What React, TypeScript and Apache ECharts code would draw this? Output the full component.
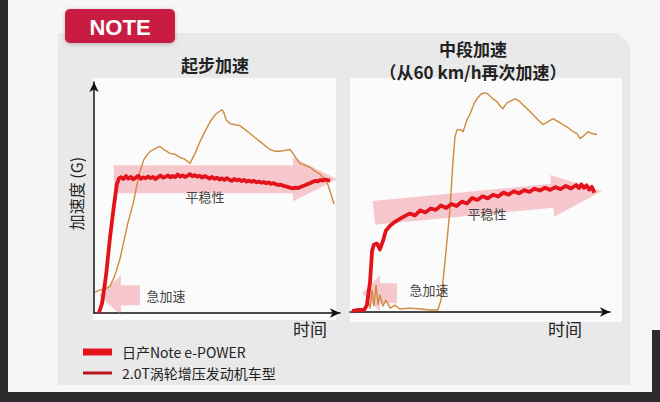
import React, { useRef, useEffect } from 'react';
import * as echarts from 'echarts';

// 起步加速 (left panel), [time, accel] in axis units 0..100
const noteStartData: number[][] = [
    [2, 0], [3.3, 4.3], [4.9, 16.3], [6.5, 32.6], [8.1, 46.4], [9.3, 55.8], [10.2, 58.4],
    [11, 58.8], [12, 58.0], [13, 59.3], [14, 58.2], [15, 58.9], [16, 57.9], [17, 58.6], [18, 59.4],
    [19, 58.1], [20, 58.7], [21, 58.3], [22, 59.1], [23, 58.4], [24, 58.9], [25, 58.0], [26, 58.8],
    [27, 59.5], [28, 58.6], [29, 58.9], [30, 59.6], [31, 58.7], [32, 59.3], [33, 58.8], [34, 60.0],
    [35, 59.0], [36, 59.6], [37, 58.9], [38, 59.4], [39, 60.1], [40, 59.2], [41, 59.7], [42, 59.0],
    [43, 59.4], [44, 58.6], [45, 59.3], [46, 58.8], [47, 58.2], [48, 58.9], [49, 58.1], [50, 58.6],
    [51, 57.8], [52, 58.3], [53, 57.6], [54, 58.4], [55, 57.7], [56, 57.2], [57, 58.0], [58, 57.4],
    [59, 57.8], [60, 57.1], [61, 57.6], [62, 56.9], [63, 57.3], [64, 56.8], [65, 57.2], [66, 56.6],
    [67, 56.9], [68, 56.4], [69, 56.7], [70, 56.2], [71, 56.5], [72, 55.9], [73, 56.2], [74, 55.7],
    [75, 55.4], [76, 55.6], [77, 55.0], [78, 54.8], [79, 54.5], [80, 54.2], [81, 54.0], [82, 54.3],
    [83, 54.1], [84, 54.6], [85, 55.0], [86, 55.4], [87, 55.9], [88, 56.3], [89, 56.8], [90, 57.2],
    [91, 57.0], [92, 57.6], [93, 57.3], [94, 57.8], [95, 57.5], [96, 57.4]
];

const turboStartData: number[][] = [
    [0.4, 9.0], [2.4, 9.9], [4.5, 10.3], [6.5, 11.6], [8.5, 16.3], [10.6, 23.6], [12.2, 31.3],
    [13.8, 39.1], [15.9, 47.2], [17.5, 55.8], [18.7, 61.4], [20.3, 66.5], [22.8, 70.0], [24.8, 71.2],
    [26.8, 72.1], [28.9, 70.4], [30.9, 69.1], [32.9, 68.7], [35.0, 67.4], [37.0, 66.5], [39.0, 64.8],
    [41.1, 69.1], [43.1, 74.2], [45.1, 78.5], [47.2, 82.8], [49.2, 85.8], [50.8, 87.1], [52.0, 88.0],
    [52.8, 86.7], [53.7, 83.7], [55.3, 82.0], [57.3, 81.5], [59.3, 81.1], [61.4, 79.4], [63.4, 77.7],
    [65.4, 76.0], [67.5, 74.2], [69.5, 72.5], [71.5, 70.8], [73.6, 70.0], [75.6, 70.0], [77.6, 70.4],
    [79.7, 70.8], [81.7, 67.8], [83.7, 64.8], [85.8, 63.9], [87.8, 63.1], [89.8, 61.4], [91.9, 60.1],
    [93.9, 57.9], [95.1, 55.4], [96.3, 51.5], [97.6, 47.2]
];

// 中段加速 (right panel)
const noteMidData: number[][] = [
    [0.8, 0.4], [3.1, 0.9], [5.4, 0.9], [6.5, 3.0], [7.7, 12.9], [8.5, 26.7], [9.2, 29.3],
    [10.4, 29.7], [11.5, 27.2], [12.7, 31.0], [13.8, 35.3], [15.4, 37.5], [17.3, 39.2], [19.2, 40.5],
    [21.2, 41.8], [23, 42.8], [25, 42.0], [27, 44.2], [29, 43.3], [31, 45.0], [33, 44.4], [35, 46.3],
    [37, 45.2], [39, 47.0], [41, 46.1], [43, 48.0], [45, 47.2], [47, 49.6], [49, 48.7], [51, 50.3],
    [53, 49.4], [55, 51.0], [57, 50.2], [59, 51.9], [61, 51.0], [63, 52.5], [65, 51.6], [67, 53.0],
    [69, 52.2], [71, 53.6], [73, 52.8], [75, 54.0], [77, 53.1], [79, 54.3], [81, 53.4], [83, 54.8],
    [85, 53.7], [87, 55.2], [88, 53.9], [89, 55.5], [90, 54.0], [91, 55.1], [92, 53.2], [93, 54.4],
    [94, 51.8]
];

const turboMidData: number[][] = [
    [0.4, 0.4], [3.8, 0.9], [5.8, 1.3], [6.9, 5.2], [7.7, 1.7], [8.5, 9.5], [9.2, 2.6], [10, 11.6],
    [10.8, 3.4], [11.5, 7.3], [12.7, 2.6], [13.8, 5.2], [15.4, 1.7], [17.3, 3.0], [19.2, 1.3],
    [23.1, 1.7], [26.9, 1.3], [30.8, 0.9], [33.8, 0.9], [35, 5.2], [36.2, 18.1], [37.3, 31.0],
    [38.5, 45.3], [39.6, 65.5], [40.4, 76.3], [41.2, 79.3], [42.3, 79.3], [43.5, 78.4], [45, 83.6],
    [46.2, 86.2], [47.7, 90.5], [48.8, 92.7], [50.4, 94.8], [51.9, 95.3], [53.1, 94.8], [54.6, 93.1],
    [56.5, 91.4], [57.7, 89.7], [58.8, 88.4], [60.4, 91.0], [61.9, 91.8], [63.5, 92.7], [65, 91.8],
    [66.5, 90.1], [68.5, 87.9], [70.4, 85.8], [72.3, 83.6], [74.2, 81.5], [76.2, 82.8], [78.1, 84.1],
    [80, 82.8], [81.9, 81.5], [83.8, 80.2], [85.8, 78.4], [87.3, 77.6], [88.5, 75.4], [90, 76.7],
    [91.5, 78.4], [93.1, 77.6], [95, 77.2]
];

// highlight arrows: [tailX, tailY, tipX, tipY]
const startArrows: number[][] = [[8.1, 57.9, 98.8, 57.9], [18.7, 7.7, 2.0, 7.7]];
const midArrows: number[][] = [[9.2, 43.1, 96.9, 52.6], [18.1, 8.2, 4.6, 8.2]];

const panelTitles = ['起步加速', '中段加速', '（从60 km/h再次加速）'];
const legendNames = ['日产Note e-POWER', '2.0T涡轮增压发动机车型'];
const axisNames = ['加速度 (G)', '时间'];
const noteLabels = ['平稳性', '急加速'];

const FONT = '"Noto Sans CJK SC", "Noto Sans", sans-serif';
const RED = '#e3131b';
const TAN = '#cf8a3e';
const PINK = 'rgba(238, 112, 124, 0.36)';

type ArrowSize = { body: number; headW: number; head: number };
const startArrowSizes: ArrowSize[] = [{ body: 14, headW: 22, head: 44 }, { body: 10, headW: 20, head: 22 }];
const midArrowSizes: ArrowSize[] = [{ body: 12, headW: 21, head: 50 }, { body: 10, headW: 18, head: 18 }];

const arrowRenderer = (sizes: ArrowSize[]) => (params: any, api: any) => {
    const p0 = api.coord([api.value(0), api.value(1)]);
    const p1 = api.coord([api.value(2), api.value(3)]);
    const s = sizes[params.dataIndex];
    const dx = p1[0] - p0[0];
    const dy = p1[1] - p0[1];
    const len = Math.hypot(dx, dy) || 1;
    const ux = dx / len;
    const uy = dy / len;
    const nx = -uy;
    const ny = ux;
    const hb = [p1[0] - ux * s.head, p1[1] - uy * s.head];
    const pt = (b: number[], w: number) => [b[0] + nx * w, b[1] + ny * w];
    return {
        type: 'polygon',
        shape: { points: [pt(p0, s.body), pt(hb, s.body), pt(hb, s.headW), p1, pt(hb, -s.headW), pt(hb, -s.body), pt(p0, -s.body)] },
        style: { fill: PINK }
    };
};

const axisLine = {
    show: true,
    symbol: ['none', 'arrow'],
    symbolSize: [7, 10],
    lineStyle: { color: '#111', width: 1.5 }
};

const App: React.FC = () => {
    const chartRef = useRef<HTMLDivElement>(null);

    useEffect(() => {
        document.body.style.margin = '0';
        if (!chartRef.current) return;
        const chart = echarts.init(chartRef.current, null, { renderer: 'svg' });

        const xBase = {
            type: 'value' as const,
            min: 0,
            max: 100,
            axisLine,
            axisTick: { show: false },
            axisLabel: { show: false },
            splitLine: { show: false }
        };

        const lineSeries = (data: number[][], color: string, width: number, idx: number, z: number) => ({
            type: 'line' as const,
            data,
            xAxisIndex: idx,
            yAxisIndex: idx,
            showSymbol: false,
            symbol: 'none',
            z,
            lineStyle: { color, width, join: 'round' as const }
        });

        const text = (t: string, x: number, y: number, size: number, extra: any = {}) => ({
            type: 'text',
            x,
            y,
            z: 20,
            style: {
                text: t,
                fontSize: size,
                fontFamily: FONT,
                fill: '#222',
                align: 'center',
                verticalAlign: 'middle',
                ...extra
            }
        });

        const option: any = {
            animation: false,
            backgroundColor: '#f6f6f6',
            grid: [
                { left: 94, top: 82, width: 246, height: 231 },
                { left: 350, top: 82, width: 260, height: 230 }
            ],
            xAxis: [
                { ...xBase, gridIndex: 0 },
                { ...xBase, gridIndex: 1 }
            ],
            yAxis: [
                {
                    ...xBase,
                    gridIndex: 0,
                    name: axisNames[0],
                    nameLocation: 'middle',
                    nameRotate: 90,
                    nameGap: 10,
                    nameTextStyle: { fontFamily: FONT, fontSize: 16, color: '#222', padding: [0, 0, 0, 8] }
                },
                { ...xBase, gridIndex: 1, axisLine: { show: false } }
            ],
            series: [
                {
                    type: 'custom',
                    xAxisIndex: 0,
                    yAxisIndex: 0,
                    z: 1,
                    encode: { x: [0, 2], y: [1, 3] },
                    data: startArrows,
                    renderItem: arrowRenderer(startArrowSizes)
                },
                {
                    type: 'custom',
                    xAxisIndex: 1,
                    yAxisIndex: 1,
                    z: 1,
                    encode: { x: [0, 2], y: [1, 3] },
                    data: midArrows,
                    renderItem: arrowRenderer(midArrowSizes)
                },
                lineSeries(turboStartData, TAN, 1.4, 0, 3),
                lineSeries(turboMidData, TAN, 1.4, 1, 3),
                lineSeries(noteStartData, RED, 3.8, 0, 4),
                lineSeries(noteMidData, RED, 3.8, 1, 4)
            ],
            graphic: [
                // photo frame: dark edges
                { type: 'rect', z: -30, shape: { x: 0, y: 0, width: 8, height: 392 }, style: { fill: '#2c2c2c' } },
                { type: 'rect', z: -30, shape: { x: 0, y: 392, width: 660, height: 10 }, style: { fill: '#2c2c2c' } },
                { type: 'rect', z: -30, shape: { x: 652, y: 330, width: 8, height: 72 }, style: { fill: '#2c2c2c' } },
                // slide panel
                {
                    type: 'polygon',
                    z: -25,
                    shape: { points: [[58, 33], [618, 33], [630, 45], [630, 385], [58, 385]] },
                    style: { fill: '#e9e9e9' }
                },
                { type: 'rect', z: -20, shape: { x: 93, y: 78, width: 243, height: 242 }, style: { fill: '#fbfbfb' } },
                { type: 'rect', z: -20, shape: { x: 350, y: 78, width: 272, height: 244 }, style: { fill: '#fbfbfb' } },
                // NOTE badge
                {
                    type: 'rect',
                    z: 10,
                    shape: { x: 65, y: 9, width: 110, height: 34, r: 5 },
                    style: { fill: '#c81b42', shadowBlur: 4, shadowColor: 'rgba(0,0,0,0.25)', shadowOffsetY: 1 }
                },
                text('NOTE', 120, 27, 22, { fill: '#fff', fontWeight: 'bold', fontFamily: 'Liberation Sans, Arial, sans-serif' }),
                // titles
                text(panelTitles[0], 215, 64, 17, { fontWeight: 'bold' }),
                text(panelTitles[1], 473, 48, 17, { fontWeight: 'bold' }),
                text(panelTitles[2], 473, 71, 17, { fontWeight: 'bold' }),
                // axis names
                text(axisNames[1], 310, 328, 17),
                text(axisNames[1], 565, 328, 17),
                // annotations
                text(noteLabels[0], 205, 196, 13, { fill: '#444' }),
                text(noteLabels[1], 166, 295, 13, { fill: '#444' }),
                text(noteLabels[0], 487, 213, 13, { fill: '#444' }),
                text(noteLabels[1], 429, 289, 13, { fill: '#444' }),
                // legend
                { type: 'line', z: 10, shape: { x1: 83, y1: 352, x2: 112, y2: 352 }, style: { stroke: RED, lineWidth: 7 } },
                text(legendNames[0], 122, 352, 14, { align: 'left' }),
                { type: 'line', z: 10, shape: { x1: 83, y1: 373, x2: 112, y2: 373 }, style: { stroke: '#b8141c', lineWidth: 3 } },
                text(legendNames[1], 122, 373, 14, { align: 'left' })
            ]
        };

        chart.setOption(option);

        return () => {
            chart.dispose();
        };
    }, []);

    return <div ref={chartRef} style={{ width: 660, height: 402 }} />;
};

export default App;
